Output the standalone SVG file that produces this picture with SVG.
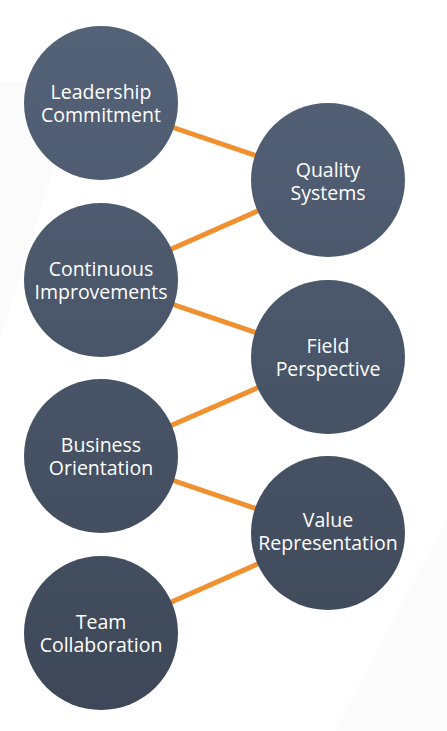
<svg xmlns="http://www.w3.org/2000/svg" width="447" height="731" viewBox="0 0 447 731">
  <defs>
    <linearGradient id="nodeFill" gradientUnits="userSpaceOnUse" x1="0" y1="26" x2="0" y2="710">
      <stop offset="0" stop-color="#546278"/>
      <stop offset="1" stop-color="#3d4757"/>
    </linearGradient>
    <style>
      .node circle { fill: url(#nodeFill); }
      .node text { fill: #ffffff; font-family: "Open Sans", "Noto Sans", "Liberation Sans", sans-serif; font-size: 19.5px; font-weight: normal; text-anchor: middle; }
      .edge { stroke: #f0902f; stroke-width: 5; fill: none; }
      .bg { fill: #fbfbfb; }
    </style>
  </defs>
  <rect width="447" height="731" fill="#ffffff"/>
  <polygon class="bg" points="0,82 80,82 0,340"/>
  <polygon class="bg" points="447,520 447,731 335,731"/>
  <g id="connectors">
    <line class="edge" x1="101" y1="103" x2="328" y2="180"/>
    <line class="edge" x1="328" y1="180" x2="101" y2="280"/>
    <line class="edge" x1="101" y1="280" x2="328" y2="357"/>
    <line class="edge" x1="328" y1="357" x2="101" y2="456"/>
    <line class="edge" x1="101" y1="456" x2="328" y2="533"/>
    <line class="edge" x1="328" y1="533" x2="101" y2="633"/>
  </g>
  <g id="leadership" class="node">
    <circle cx="101" cy="103" r="77"/>
    <text x="101" y="99">Leadership</text>
    <text x="101" y="122">Commitment</text>
  </g>
  <g id="quality" class="node">
    <circle cx="328" cy="180" r="77"/>
    <text x="328" y="177">Quality</text>
    <text x="328" y="200">Systems</text>
  </g>
  <g id="continuous" class="node">
    <circle cx="101" cy="280" r="77"/>
    <text x="101" y="276">Continuous</text>
    <text x="101" y="299">Improvements</text>
  </g>
  <g id="field" class="node">
    <circle cx="328" cy="357" r="77"/>
    <text x="328" y="353">Field</text>
    <text x="328" y="376">Perspective</text>
  </g>
  <g id="business" class="node">
    <circle cx="101" cy="456" r="77"/>
    <text x="101" y="452">Business</text>
    <text x="101" y="475">Orientation</text>
  </g>
  <g id="value" class="node">
    <circle cx="328" cy="533" r="77"/>
    <text x="328" y="527">Value</text>
    <text x="328" y="550">Representation</text>
  </g>
  <g id="team" class="node">
    <circle cx="101" cy="633" r="77"/>
    <text x="101" y="629">Team</text>
    <text x="101" y="652">Collaboration</text>
  </g>
</svg>
